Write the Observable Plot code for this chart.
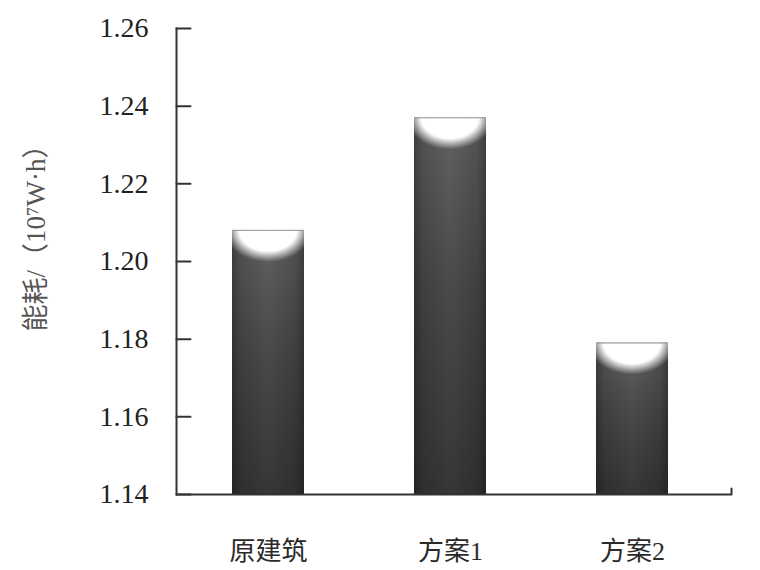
<!DOCTYPE html>
<html>
<head>
<meta charset="utf-8">
<script src="https://cdn.jsdelivr.net/npm/d3@7"></script>
<script src="https://cdn.jsdelivr.net/npm/@observablehq/plot@0.6"></script>
<style>
  html, body { margin: 0; padding: 0; background: #fff; }
  #chart svg { display: block; }
</style>
</head>
<body>
<div id="chart"></div>
<script>
const categories = ["原建筑", "方案1", "方案2"];
const energy = [1.208, 1.237, 1.179];
const yTicks = [1.14, 1.16, 1.18, 1.20, 1.22, 1.24, 1.26];
const yLabel = "能耗/（10⁷W·h）";
const yBase = 1.14;
const capDepth = 0.0137;

const data = categories.map((c, i) => ({ name: c, value: energy[i] }));

const lineShape = { draw(ctx, l) { ctx.moveTo(0, 0); ctx.lineTo(0, -l); } };

function defsMark() {
  const defs = d3.create("svg:defs");
  const vg = defs.append("linearGradient").attr("id", "bodyGrad")
    .attr("x1", 0).attr("x2", 0).attr("y1", 0).attr("y2", 1);
  [[0, "#626262"], [0.45, "#4a4a4a"], [1, "#363636"]]
    .forEach(([o, c]) => vg.append("stop").attr("offset", o).attr("stop-color", c));
  const eg = defs.append("linearGradient").attr("id", "edgeGrad")
    .attr("x1", 0).attr("x2", 1).attr("y1", 0).attr("y2", 0);
  [[0, 0.35], [0.12, 0.15], [0.5, 0], [0.88, 0.15], [1, 0.35]]
    .forEach(([o, a]) => eg.append("stop").attr("offset", o).attr("stop-color", "#000").attr("stop-opacity", a));
  const rg = defs.append("radialGradient").attr("id", "capGrad")
    .attr("cx", 0.5).attr("cy", 0).attr("r", 0.6).attr("fx", 0.5).attr("fy", 0);
  [[0, 1], [0.66, 1], [0.84, 0.45], [1, 0]]
    .forEach(([o, a]) => rg.append("stop").attr("offset", o).attr("stop-color", "#fff").attr("stop-opacity", a));
  return defs.node();
}

const chart = Plot.plot({
  width: 760,
  height: 570,
  marginLeft: 176,
  marginRight: 29,
  marginTop: 28,
  marginBottom: 76,
  style: { fontFamily: "'Liberation Serif', 'Noto Sans CJK SC', serif", background: "#fff", color: "#333" },
  x: { domain: categories, paddingInner: 0.605, paddingOuter: 0.32, align: 0.47, label: null },
  y: { domain: [1.14, 1.26], label: null },
  marks: [
    defsMark,
    Plot.barY(data, { x: "name", y1: () => yBase, y2: "value", fill: "url(#bodyGrad)" }),
    Plot.barY(data, { x: "name", y1: () => yBase, y2: "value", fill: "url(#edgeGrad)" }),
    Plot.barY(data, { x: "name", y1: d => d.value - capDepth, y2: "value", fill: "url(#capGrad)" }),
    Plot.tickY(data, { x: "name", y: "value", stroke: "#9a9a9a", strokeWidth: 1 }),
    Plot.axisY({ ticks: yTicks, tickFormat: d3.format(".2f"), tickSize: 0, tickPadding: 28, fontSize: 28, fill: "#222", label: null }),
    Plot.axisX({ tickSize: 0, tickPadding: 47, fontSize: 26, fill: "#2a2a2a", label: null }),
    Plot.vector(yTicks, { y: d => d, frameAnchor: "left", rotate: 90, length: 14, anchor: "start", shape: lineShape, stroke: "#333", strokeWidth: 2 }),
    Plot.vector([0], { frameAnchor: "bottom-right", rotate: 0, length: 6, anchor: "start", shape: lineShape, stroke: "#333", strokeWidth: 2 }),
    Plot.frame({ anchor: "left", stroke: "#333", strokeWidth: 2 }),
    Plot.ruleY([yBase], { stroke: "#333", strokeWidth: 2 }),
    Plot.text([yLabel], { frameAnchor: "left", textAnchor: "middle", rotate: -90, dx: -140, dy: -30, fontSize: 27, fill: "#555", text: d => d })
  ]
});

document.getElementById("chart").appendChild(chart);
</script>
</body>
</html>
